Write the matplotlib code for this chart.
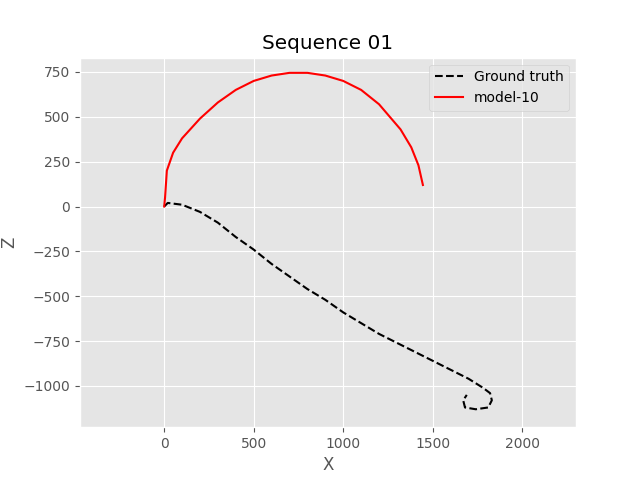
import matplotlib
matplotlib.use('Agg')
import matplotlib.pyplot as plt

plt.style.use('ggplot')

gt_x = [0, 20, 100, 200, 300, 400, 500, 600, 700, 800, 900, 1000, 1100, 1200, 1300,
        1400, 1500, 1600, 1700, 1780, 1820, 1830, 1810, 1740, 1680, 1670, 1690]
gt_z = [0, 20, 10, -30, -90, -170, -240, -320, -390, -460, -520, -590, -650, -710, -760,
        -810, -860, -910, -960, -1010, -1040, -1080, -1120, -1130, -1120, -1080, -1050]

model_x = [0, 5, 15, 50, 100, 200, 300, 400, 500, 600, 700, 800, 900, 1000, 1100,
           1200, 1260, 1320, 1380, 1420, 1445]
model_z = [0, 50, 200, 300, 380, 490, 580, 650, 700, 730, 745, 745, 730, 700, 650,
           570, 500, 430, 330, 230, 120]

fig, ax = plt.subplots(figsize=(6.4, 4.8), dpi=100)
ax.plot(gt_x, gt_z, 'k--', label='Ground truth')
ax.plot(model_x, model_z, 'r-', label='model-10')
ax.set_xlim(-470, 2300)
ax.set_ylim(-1230, 830)
ax.set_xticks([0, 500, 1000, 1500, 2000])
ax.set_title('Sequence 01')
ax.set_xlabel('X')
ax.set_ylabel('Z')
ax.legend(loc='upper right')
plt.savefig('out.png')
